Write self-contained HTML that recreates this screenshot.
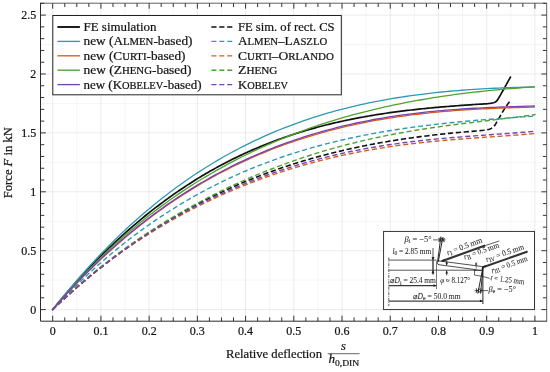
<!DOCTYPE html>
<html><head><meta charset="utf-8"><title>Force vs. relative deflection</title>
<style>html,body{margin:0;padding:0;background:#fff}svg{display:block}text{font-family:"Liberation Serif",serif;fill:#151515;stroke:#151515;stroke-width:0.22px}</style></head><body>
<svg width="550" height="372" viewBox="0 0 550 372">
<rect width="550" height="372" fill="#fff"/>
<g><line x1="52.70" y1="3.2" x2="52.70" y2="321.2" stroke="#dedede" stroke-width="0.6"/><line x1="76.81" y1="3.2" x2="76.81" y2="321.2" stroke="#ebebeb" stroke-width="0.5"/><line x1="100.92" y1="3.2" x2="100.92" y2="321.2" stroke="#dedede" stroke-width="0.6"/><line x1="125.03" y1="3.2" x2="125.03" y2="321.2" stroke="#ebebeb" stroke-width="0.5"/><line x1="149.14" y1="3.2" x2="149.14" y2="321.2" stroke="#dedede" stroke-width="0.6"/><line x1="173.25" y1="3.2" x2="173.25" y2="321.2" stroke="#ebebeb" stroke-width="0.5"/><line x1="197.36" y1="3.2" x2="197.36" y2="321.2" stroke="#dedede" stroke-width="0.6"/><line x1="221.47" y1="3.2" x2="221.47" y2="321.2" stroke="#ebebeb" stroke-width="0.5"/><line x1="245.58" y1="3.2" x2="245.58" y2="321.2" stroke="#dedede" stroke-width="0.6"/><line x1="269.69" y1="3.2" x2="269.69" y2="321.2" stroke="#ebebeb" stroke-width="0.5"/><line x1="293.80" y1="3.2" x2="293.80" y2="321.2" stroke="#dedede" stroke-width="0.6"/><line x1="317.91" y1="3.2" x2="317.91" y2="321.2" stroke="#ebebeb" stroke-width="0.5"/><line x1="342.02" y1="3.2" x2="342.02" y2="321.2" stroke="#dedede" stroke-width="0.6"/><line x1="366.13" y1="3.2" x2="366.13" y2="321.2" stroke="#ebebeb" stroke-width="0.5"/><line x1="390.24" y1="3.2" x2="390.24" y2="321.2" stroke="#dedede" stroke-width="0.6"/><line x1="414.35" y1="3.2" x2="414.35" y2="321.2" stroke="#ebebeb" stroke-width="0.5"/><line x1="438.46" y1="3.2" x2="438.46" y2="321.2" stroke="#dedede" stroke-width="0.6"/><line x1="462.57" y1="3.2" x2="462.57" y2="321.2" stroke="#ebebeb" stroke-width="0.5"/><line x1="486.68" y1="3.2" x2="486.68" y2="321.2" stroke="#dedede" stroke-width="0.6"/><line x1="510.79" y1="3.2" x2="510.79" y2="321.2" stroke="#ebebeb" stroke-width="0.5"/><line x1="534.90" y1="3.2" x2="534.90" y2="321.2" stroke="#dedede" stroke-width="0.6"/><line x1="40.5" y1="309.60" x2="546.7" y2="309.60" stroke="#dedede" stroke-width="0.6"/><line x1="40.5" y1="280.15" x2="546.7" y2="280.15" stroke="#ebebeb" stroke-width="0.5"/><line x1="40.5" y1="250.70" x2="546.7" y2="250.70" stroke="#dedede" stroke-width="0.6"/><line x1="40.5" y1="221.25" x2="546.7" y2="221.25" stroke="#ebebeb" stroke-width="0.5"/><line x1="40.5" y1="191.80" x2="546.7" y2="191.80" stroke="#dedede" stroke-width="0.6"/><line x1="40.5" y1="162.35" x2="546.7" y2="162.35" stroke="#ebebeb" stroke-width="0.5"/><line x1="40.5" y1="132.90" x2="546.7" y2="132.90" stroke="#dedede" stroke-width="0.6"/><line x1="40.5" y1="103.45" x2="546.7" y2="103.45" stroke="#ebebeb" stroke-width="0.5"/><line x1="40.5" y1="74.00" x2="546.7" y2="74.00" stroke="#dedede" stroke-width="0.6"/><line x1="40.5" y1="44.55" x2="546.7" y2="44.55" stroke="#ebebeb" stroke-width="0.5"/><line x1="40.5" y1="15.10" x2="546.7" y2="15.10" stroke="#dedede" stroke-width="0.6"/></g>
<g stroke-linejoin="round"><path d="M52.70 309.60 L54.62 307.26 L56.53 304.93 L58.45 302.63 L60.37 300.34 L62.28 298.07 L64.20 295.81 L66.12 293.58 L68.03 291.36 L69.95 289.16 L71.87 286.97 L73.78 284.81 L75.70 282.66 L77.62 280.53 L79.53 278.41 L81.45 276.31 L83.37 274.23 L85.28 272.17 L87.20 270.12 L89.12 268.09 L91.03 266.08 L92.95 264.08 L94.87 262.10 L96.78 260.14 L98.70 258.20 L100.62 256.27 L102.54 254.35 L104.45 252.45 L106.37 250.57 L108.29 248.71 L110.20 246.86 L112.12 245.03 L114.04 243.21 L115.95 241.41 L117.87 239.63 L119.79 237.86 L121.70 236.11 L123.62 234.37 L125.54 232.65 L127.45 230.94 L129.37 229.25 L131.29 227.58 L133.20 225.92 L135.12 224.27 L137.04 222.64 L138.95 221.03 L140.87 219.43 L142.79 217.85 L144.70 216.28 L146.62 214.73 L148.54 213.19 L150.45 211.66 L152.37 210.15 L154.29 208.66 L156.20 207.18 L158.12 205.71 L160.04 204.26 L161.95 202.82 L163.87 201.40 L165.79 199.99 L167.70 198.60 L169.62 197.22 L171.54 195.85 L173.45 194.50 L175.37 193.16 L177.29 191.84 L179.20 190.52 L181.12 189.23 L183.04 187.94 L184.95 186.67 L186.87 185.41 L188.79 184.17 L190.71 182.94 L192.62 181.72 L194.54 180.52 L196.46 179.33 L198.37 178.15 L200.29 176.99 L202.21 175.83 L204.12 174.69 L206.04 173.57 L207.96 172.45 L209.87 171.35 L211.79 170.26 L213.71 169.18 L215.62 168.12 L217.54 167.07 L219.46 166.03 L221.37 165.00 L223.29 163.98 L225.21 162.98 L227.12 161.99 L229.04 161.00 L230.96 160.04 L232.87 159.08 L234.79 158.13 L236.71 157.20 L238.62 156.28 L240.54 155.36 L242.46 154.46 L244.37 153.58 L246.29 152.70 L248.21 151.83 L250.12 150.97 L252.04 150.13 L253.96 149.29 L255.87 148.47 L257.79 147.66 L259.71 146.85 L261.62 146.06 L263.54 145.28 L265.46 144.51 L267.37 143.75 L269.29 143.00 L271.21 142.26 L273.12 141.53 L275.04 140.80 L276.96 140.09 L278.87 139.39 L280.79 138.70 L282.71 138.02 L284.63 137.35 L286.54 136.68 L288.46 136.03 L290.38 135.39 L292.29 134.75 L294.21 134.12 L296.13 133.51 L298.04 132.90 L299.96 132.30 L301.88 131.71 L303.79 131.13 L305.71 130.55 L307.63 129.99 L309.54 129.43 L311.46 128.89 L313.38 128.35 L315.29 127.82 L317.21 127.29 L319.13 126.78 L321.04 126.27 L322.96 125.77 L324.88 125.28 L326.79 124.80 L328.71 124.32 L330.63 123.86 L332.54 123.40 L334.46 122.94 L336.38 122.50 L338.29 122.06 L340.21 121.63 L342.13 121.21 L344.04 120.79 L345.96 120.38 L347.88 119.98 L349.79 119.58 L351.71 119.19 L353.63 118.81 L355.54 118.43 L357.46 118.06 L359.38 117.70 L361.29 117.34 L363.21 116.99 L365.13 116.65 L367.04 116.31 L368.96 115.98 L370.88 115.65 L372.79 115.33 L374.71 115.01 L376.63 114.70 L378.55 114.40 L380.46 114.10 L382.38 113.81 L384.30 113.52 L386.21 113.24 L388.13 112.96 L390.05 112.69 L391.96 112.42 L393.88 112.16 L395.80 111.90 L397.71 111.65 L399.63 111.40 L401.55 111.16 L403.46 110.92 L405.38 110.68 L407.30 110.45 L409.21 110.23 L411.13 110.01 L413.05 109.79 L414.96 109.58 L416.88 109.37 L418.80 109.16 L420.71 108.96 L422.63 108.76 L424.55 108.57 L426.46 108.38 L428.38 108.19 L430.30 108.00 L432.21 107.82 L434.13 107.65 L436.05 107.47 L437.96 107.30 L439.88 107.13 L441.80 106.97 L443.71 106.80 L445.63 106.64 L447.55 106.49 L449.46 106.33 L451.38 106.18 L453.30 106.03 L455.21 105.88 L457.13 105.74 L459.05 105.59 L460.96 105.45 L462.88 105.31 L464.80 105.18 L466.72 105.04 L468.63 104.91 L470.55 104.78 L472.47 104.65 L474.38 104.52 L476.30 104.39 L478.22 104.27 L480.13 104.16 L482.05 104.06 L483.97 103.96 L485.88 103.85 L487.80 103.70 L489.72 103.49 L491.63 103.08 L493.55 102.74 L495.47 102.04 L497.38 100.10 L499.30 97.05 L501.22 93.66 L503.13 90.24 L505.05 86.81 L506.97 83.38 L508.88 79.95 L510.80 76.50" fill="none" stroke="#111" stroke-width="1.7"/><path d="M52.70 309.60 L54.62 307.78 L56.53 305.98 L58.45 304.19 L60.36 302.41 L62.28 300.64 L64.19 298.89 L66.11 297.14 L68.02 295.41 L69.94 293.69 L71.85 291.98 L73.77 290.29 L75.69 288.61 L77.60 286.94 L79.52 285.28 L81.43 283.63 L83.35 281.99 L85.26 280.37 L87.18 278.76 L89.09 277.16 L91.01 275.57 L92.93 273.99 L94.84 272.42 L96.76 270.87 L98.67 269.32 L100.59 267.79 L102.50 266.27 L104.42 264.76 L106.33 263.26 L108.25 261.78 L110.16 260.30 L112.08 258.84 L114.00 257.38 L115.91 255.94 L117.83 254.51 L119.74 253.09 L121.66 251.68 L123.57 250.28 L125.49 248.89 L127.40 247.51 L129.32 246.14 L131.23 244.79 L133.15 243.44 L135.07 242.11 L136.98 240.78 L138.90 239.47 L140.81 238.16 L142.73 236.87 L144.64 235.59 L146.56 234.31 L148.47 233.05 L150.39 231.80 L152.31 230.56 L154.22 229.33 L156.14 228.10 L158.05 226.89 L159.97 225.69 L161.88 224.50 L163.80 223.32 L165.71 222.14 L167.63 220.98 L169.54 219.83 L171.46 218.69 L173.38 217.55 L175.29 216.43 L177.21 215.32 L179.12 214.21 L181.04 213.12 L182.95 212.03 L184.87 210.96 L186.78 209.89 L188.70 208.83 L190.61 207.78 L192.53 206.74 L194.45 205.72 L196.36 204.70 L198.28 203.68 L200.19 202.68 L202.11 201.69 L204.02 200.70 L205.94 199.73 L207.85 198.76 L209.77 197.81 L211.68 196.86 L213.60 195.92 L215.52 194.99 L217.43 194.07 L219.35 193.15 L221.26 192.25 L223.18 191.35 L225.09 190.46 L227.01 189.58 L228.92 188.71 L230.84 187.85 L232.76 186.99 L234.67 186.15 L236.59 185.31 L238.50 184.48 L240.42 183.66 L242.33 182.85 L244.25 182.04 L246.16 181.24 L248.08 180.45 L249.99 179.67 L251.91 178.90 L253.83 178.13 L255.74 177.38 L257.66 176.63 L259.57 175.88 L261.49 175.15 L263.40 174.42 L265.32 173.70 L267.23 172.99 L269.15 172.29 L271.06 171.59 L272.98 170.90 L274.90 170.22 L276.81 169.54 L278.73 168.88 L280.64 168.22 L282.56 167.56 L284.47 166.92 L286.39 166.28 L288.30 165.65 L290.22 165.02 L292.14 164.41 L294.05 163.79 L295.97 163.19 L297.88 162.59 L299.80 162.00 L301.71 161.42 L303.63 160.84 L305.54 160.27 L307.46 159.71 L309.37 159.15 L311.29 158.60 L313.21 158.06 L315.12 157.52 L317.04 156.99 L318.95 156.47 L320.87 155.95 L322.78 155.44 L324.70 154.93 L326.61 154.43 L328.53 153.94 L330.44 153.45 L332.36 152.97 L334.28 152.50 L336.19 152.03 L338.11 151.56 L340.02 151.11 L341.94 150.66 L343.85 150.21 L345.77 149.77 L347.68 149.34 L349.60 148.91 L351.52 148.48 L353.43 148.07 L355.35 147.66 L357.26 147.25 L359.18 146.85 L361.09 146.45 L363.01 146.06 L364.92 145.68 L366.84 145.30 L368.75 144.93 L370.67 144.56 L372.59 144.19 L374.50 143.83 L376.42 143.48 L378.33 143.13 L380.25 142.79 L382.16 142.45 L384.08 142.12 L385.99 141.79 L387.91 141.46 L389.82 141.14 L391.74 140.83 L393.66 140.52 L395.57 140.21 L397.49 139.91 L399.40 139.62 L401.32 139.32 L403.23 139.04 L405.15 138.75 L407.06 138.48 L408.98 138.20 L410.89 137.93 L412.81 137.67 L414.73 137.40 L416.64 137.15 L418.56 136.89 L420.47 136.64 L422.39 136.40 L424.30 136.16 L426.22 135.92 L428.13 135.69 L430.05 135.46 L431.97 135.23 L433.88 135.01 L435.80 134.79 L437.71 134.58 L439.63 134.36 L441.54 134.16 L443.46 133.95 L445.37 133.75 L447.29 133.56 L449.20 133.36 L451.12 133.17 L453.04 132.98 L454.95 132.80 L456.87 132.62 L458.78 132.44 L460.70 132.27 L462.61 132.10 L464.53 131.93 L466.44 131.77 L468.36 131.62 L470.27 131.46 L472.19 131.31 L474.11 131.14 L476.02 130.97 L477.94 130.81 L479.85 130.66 L481.77 130.48 L483.68 130.28 L485.60 130.02 L487.51 129.70 L489.43 129.17 L491.35 128.38 L493.26 127.01 L495.18 124.85 L497.09 121.58 L499.01 118.26 L500.92 114.81 L502.84 111.46 L504.75 108.42 L506.67 105.58 L508.58 102.89 L510.50 100.40" fill="none" stroke="#111" stroke-width="1.6" stroke-dasharray="3.65 4.25" stroke-linecap="square"/><path d="M52.70 309.60 L56.75 304.49 L60.80 299.46 L64.86 294.51 L68.91 289.64 L72.96 284.85 L77.01 280.15 L81.06 275.52 L85.12 270.97 L89.17 266.49 L93.22 262.09 L97.27 257.77 L101.33 253.53 L105.38 249.35 L109.43 245.25 L113.48 241.23 L117.53 237.27 L121.59 233.39 L125.64 229.58 L129.69 225.83 L133.74 222.16 L137.79 218.55 L141.85 215.02 L145.90 211.54 L149.95 208.14 L154.00 204.80 L158.05 201.52 L162.11 198.31 L166.16 195.16 L170.21 192.08 L174.26 189.05 L178.32 186.09 L182.37 183.18 L186.42 180.34 L190.47 177.55 L194.52 174.83 L198.58 172.16 L202.63 169.55 L206.68 166.99 L210.73 164.49 L214.78 162.04 L218.84 159.65 L222.89 157.31 L226.94 155.02 L230.99 152.79 L235.04 150.60 L239.10 148.47 L243.15 146.39 L247.20 144.35 L251.25 142.37 L255.31 140.43 L259.36 138.54 L263.41 136.70 L267.46 134.90 L271.51 133.15 L275.57 131.44 L279.62 129.77 L283.67 128.15 L287.72 126.57 L291.77 125.04 L295.83 123.54 L299.88 122.09 L303.93 120.67 L307.98 119.30 L312.03 117.96 L316.09 116.66 L320.14 115.40 L324.19 114.17 L328.24 112.99 L332.29 111.83 L336.35 110.72 L340.40 109.63 L344.45 108.58 L348.50 107.57 L352.56 106.58 L356.61 105.63 L360.66 104.71 L364.71 103.82 L368.76 102.96 L372.82 102.14 L376.87 101.34 L380.92 100.56 L384.97 99.82 L389.02 99.10 L393.08 98.41 L397.13 97.75 L401.18 97.11 L405.23 96.50 L409.28 95.91 L413.34 95.34 L417.39 94.80 L421.44 94.28 L425.49 93.79 L429.55 93.31 L433.60 92.86 L437.65 92.42 L441.70 92.01 L445.75 91.62 L449.81 91.24 L453.86 90.89 L457.91 90.55 L461.96 90.23 L466.01 89.93 L470.07 89.64 L474.12 89.37 L478.17 89.12 L482.22 88.88 L486.27 88.65 L490.33 88.44 L494.38 88.24 L498.43 88.06 L502.48 87.89 L506.54 87.73 L510.59 87.58 L514.64 87.44 L518.69 87.31 L522.74 87.20 L526.80 87.09 L530.85 86.99 L534.90 86.90" fill="none" stroke="#2f99b2" stroke-width="1.3"/><path d="M52.70 309.60 L56.75 305.27 L60.80 301.02 L64.86 296.83 L68.91 292.72 L72.96 288.68 L77.01 284.70 L81.06 280.80 L85.12 276.96 L89.17 273.19 L93.22 269.48 L97.27 265.84 L101.33 262.27 L105.38 258.76 L109.43 255.31 L113.48 251.92 L117.53 248.60 L121.59 245.33 L125.64 242.13 L129.69 238.98 L133.74 235.89 L137.79 232.86 L141.85 229.89 L145.90 226.97 L149.95 224.11 L154.00 221.31 L158.05 218.55 L162.11 215.85 L166.16 213.21 L170.21 210.61 L174.26 208.07 L178.32 205.58 L182.37 203.14 L186.42 200.75 L190.47 198.40 L194.52 196.11 L198.58 193.86 L202.63 191.66 L206.68 189.50 L210.73 187.39 L214.78 185.33 L218.84 183.31 L222.89 181.33 L226.94 179.40 L230.99 177.50 L235.04 175.66 L239.10 173.85 L243.15 172.08 L247.20 170.35 L251.25 168.67 L255.31 167.02 L259.36 165.41 L263.41 163.83 L267.46 162.30 L271.51 160.80 L275.57 159.34 L279.62 157.91 L283.67 156.52 L287.72 155.16 L291.77 153.84 L295.83 152.55 L299.88 151.29 L303.93 150.06 L307.98 148.87 L312.03 147.70 L316.09 146.57 L320.14 145.47 L324.19 144.40 L328.24 143.35 L332.29 142.34 L336.35 141.35 L340.40 140.39 L344.45 139.45 L348.50 138.55 L352.56 137.66 L356.61 136.81 L360.66 135.98 L364.71 135.17 L368.76 134.38 L372.82 133.62 L376.87 132.88 L380.92 132.17 L384.97 131.47 L389.02 130.80 L393.08 130.15 L397.13 129.51 L401.18 128.90 L405.23 128.30 L409.28 127.73 L413.34 127.17 L417.39 126.62 L421.44 126.10 L425.49 125.59 L429.55 125.10 L433.60 124.62 L437.65 124.16 L441.70 123.71 L445.75 123.27 L449.81 122.85 L453.86 122.44 L457.91 122.04 L461.96 121.66 L466.01 121.28 L470.07 120.92 L474.12 120.56 L478.17 120.22 L482.22 119.88 L486.27 119.55 L490.33 119.23 L494.38 118.92 L498.43 118.61 L502.48 118.31 L506.54 118.02 L510.59 117.73 L514.64 117.44 L518.69 117.16 L522.74 116.88 L526.80 116.60 L530.85 116.33 L534.90 116.05" fill="none" stroke="#2f99b2" stroke-width="1.4" stroke-dasharray="3.65 4.25" stroke-linecap="square"/><path d="M52.70 309.60 L56.75 304.97 L60.80 300.41 L64.86 295.94 L68.91 291.53 L72.96 287.20 L77.01 282.94 L81.06 278.76 L85.12 274.64 L89.17 270.60 L93.22 266.62 L97.27 262.72 L101.33 258.88 L105.38 255.11 L109.43 251.41 L113.48 247.77 L117.53 244.19 L121.59 240.68 L125.64 237.24 L129.69 233.85 L133.74 230.53 L137.79 227.27 L141.85 224.07 L145.90 220.92 L149.95 217.84 L154.00 214.82 L158.05 211.85 L162.11 208.94 L166.16 206.08 L170.21 203.29 L174.26 200.54 L178.32 197.85 L182.37 195.22 L186.42 192.63 L190.47 190.10 L194.52 187.62 L198.58 185.19 L202.63 182.81 L206.68 180.49 L210.73 178.21 L214.78 175.98 L218.84 173.79 L222.89 171.66 L226.94 169.57 L230.99 167.53 L235.04 165.53 L239.10 163.58 L243.15 161.67 L247.20 159.81 L251.25 157.99 L255.31 156.21 L259.36 154.48 L263.41 152.78 L267.46 151.13 L271.51 149.52 L275.57 147.95 L279.62 146.42 L283.67 144.93 L287.72 143.47 L291.77 142.06 L295.83 140.68 L299.88 139.34 L303.93 138.03 L307.98 136.76 L312.03 135.53 L316.09 134.33 L320.14 133.17 L324.19 132.04 L328.24 130.94 L332.29 129.88 L336.35 128.85 L340.40 127.85 L344.45 126.88 L348.50 125.94 L352.56 125.03 L356.61 124.15 L360.66 123.31 L364.71 122.49 L368.76 121.70 L372.82 120.93 L376.87 120.20 L380.92 119.49 L384.97 118.81 L389.02 118.15 L393.08 117.52 L397.13 116.91 L401.18 116.33 L405.23 115.77 L409.28 115.23 L413.34 114.72 L417.39 114.23 L421.44 113.76 L425.49 113.31 L429.55 112.88 L433.60 112.47 L437.65 112.08 L441.70 111.71 L445.75 111.36 L449.81 111.03 L453.86 110.71 L457.91 110.41 L461.96 110.13 L466.01 109.86 L470.07 109.60 L474.12 109.37 L478.17 109.14 L482.22 108.93 L486.27 108.73 L490.33 108.54 L494.38 108.37 L498.43 108.20 L502.48 108.05 L506.54 107.90 L510.59 107.76 L514.64 107.64 L518.69 107.52 L522.74 107.40 L526.80 107.29 L530.85 107.19 L534.90 107.10" fill="none" stroke="#d65c1e" stroke-width="1.3"/><path d="M52.70 309.60 L56.75 305.69 L60.80 301.86 L64.86 298.10 L68.91 294.41 L72.96 290.79 L77.01 287.23 L81.06 283.75 L85.12 280.32 L89.17 276.96 L93.22 273.66 L97.27 270.42 L101.33 267.24 L105.38 264.12 L109.43 261.05 L113.48 258.04 L117.53 255.08 L121.59 252.18 L125.64 249.33 L129.69 246.53 L133.74 243.78 L137.79 241.08 L141.85 238.43 L145.90 235.83 L149.95 233.27 L154.00 230.76 L158.05 228.29 L162.11 225.87 L166.16 223.50 L170.21 221.16 L174.26 218.87 L178.32 216.62 L182.37 214.41 L186.42 212.25 L190.47 210.12 L194.52 208.03 L198.58 205.98 L202.63 203.97 L206.68 202.00 L210.73 200.06 L214.78 198.16 L218.84 196.30 L222.89 194.48 L226.94 192.69 L230.99 190.93 L235.04 189.21 L239.10 187.53 L243.15 185.88 L247.20 184.26 L251.25 182.68 L255.31 181.13 L259.36 179.62 L263.41 178.13 L267.46 176.68 L271.51 175.26 L275.57 173.88 L279.62 172.52 L283.67 171.20 L287.72 169.91 L291.77 168.64 L295.83 167.41 L299.88 166.21 L303.93 165.04 L307.98 163.90 L312.03 162.79 L316.09 161.71 L320.14 160.65 L324.19 159.63 L328.24 158.63 L332.29 157.66 L336.35 156.72 L340.40 155.81 L344.45 154.92 L348.50 154.06 L352.56 153.22 L356.61 152.42 L360.66 151.63 L364.71 150.88 L368.76 150.14 L372.82 149.44 L376.87 148.75 L380.92 148.09 L384.97 147.45 L389.02 146.84 L393.08 146.25 L397.13 145.68 L401.18 145.12 L405.23 144.59 L409.28 144.08 L413.34 143.59 L417.39 143.12 L421.44 142.67 L425.49 142.23 L429.55 141.81 L433.60 141.40 L437.65 141.01 L441.70 140.64 L445.75 140.27 L449.81 139.92 L453.86 139.58 L457.91 139.26 L461.96 138.94 L466.01 138.63 L470.07 138.33 L474.12 138.03 L478.17 137.74 L482.22 137.46 L486.27 137.17 L490.33 136.89 L494.38 136.61 L498.43 136.33 L502.48 136.05 L506.54 135.76 L510.59 135.47 L514.64 135.17 L518.69 134.87 L522.74 134.55 L526.80 134.23 L530.85 133.89 L534.90 133.54" fill="none" stroke="#d65c1e" stroke-width="1.4" stroke-dasharray="3.65 4.25" stroke-linecap="square"/><path d="M52.70 309.60 L56.75 304.79 L60.80 300.06 L64.86 295.41 L68.91 290.85 L72.96 286.36 L77.01 281.95 L81.06 277.63 L85.12 273.37 L89.17 269.19 L93.22 265.09 L97.27 261.06 L101.33 257.10 L105.38 253.21 L109.43 249.39 L113.48 245.64 L117.53 241.96 L121.59 238.34 L125.64 234.79 L129.69 231.30 L133.74 227.88 L137.79 224.52 L141.85 221.22 L145.90 217.98 L149.95 214.80 L154.00 211.68 L158.05 208.62 L162.11 205.61 L166.16 202.66 L170.21 199.77 L174.26 196.93 L178.32 194.15 L182.37 191.41 L186.42 188.73 L190.47 186.10 L194.52 183.52 L198.58 180.99 L202.63 178.51 L206.68 176.08 L210.73 173.69 L214.78 171.35 L218.84 169.06 L222.89 166.81 L226.94 164.60 L230.99 162.44 L235.04 160.33 L239.10 158.25 L243.15 156.22 L247.20 154.23 L251.25 152.27 L255.31 150.36 L259.36 148.49 L263.41 146.66 L267.46 144.86 L271.51 143.10 L275.57 141.38 L279.62 139.70 L283.67 138.05 L287.72 136.43 L291.77 134.85 L295.83 133.31 L299.88 131.80 L303.93 130.32 L307.98 128.87 L312.03 127.46 L316.09 126.07 L320.14 124.72 L324.19 123.40 L328.24 122.11 L332.29 120.85 L336.35 119.62 L340.40 118.42 L344.45 117.24 L348.50 116.09 L352.56 114.97 L356.61 113.88 L360.66 112.81 L364.71 111.77 L368.76 110.76 L372.82 109.77 L376.87 108.81 L380.92 107.87 L384.97 106.95 L389.02 106.06 L393.08 105.19 L397.13 104.35 L401.18 103.53 L405.23 102.73 L409.28 101.95 L413.34 101.19 L417.39 100.46 L421.44 99.74 L425.49 99.05 L429.55 98.37 L433.60 97.72 L437.65 97.08 L441.70 96.47 L445.75 95.87 L449.81 95.29 L453.86 94.73 L457.91 94.19 L461.96 93.67 L466.01 93.16 L470.07 92.67 L474.12 92.19 L478.17 91.74 L482.22 91.30 L486.27 90.87 L490.33 90.46 L494.38 90.06 L498.43 89.68 L502.48 89.32 L506.54 88.96 L510.59 88.62 L514.64 88.30 L518.69 87.99 L522.74 87.69 L526.80 87.40 L530.85 87.13 L534.90 86.87" fill="none" stroke="#4da32e" stroke-width="1.3"/><path d="M52.70 309.60 L56.75 305.64 L60.80 301.75 L64.86 297.93 L68.91 294.18 L72.96 290.49 L77.01 286.87 L81.06 283.32 L85.12 279.83 L89.17 276.40 L93.22 273.03 L97.27 269.71 L101.33 266.46 L105.38 263.26 L109.43 260.11 L113.48 257.02 L117.53 253.98 L121.59 250.98 L125.64 248.04 L129.69 245.15 L133.74 242.30 L137.79 239.51 L141.85 236.75 L145.90 234.05 L149.95 231.38 L154.00 228.76 L158.05 226.18 L162.11 223.65 L166.16 221.15 L170.21 218.70 L174.26 216.28 L178.32 213.91 L182.37 211.57 L186.42 209.27 L190.47 207.01 L194.52 204.78 L198.58 202.59 L202.63 200.44 L206.68 198.32 L210.73 196.24 L214.78 194.19 L218.84 192.18 L222.89 190.20 L226.94 188.25 L230.99 186.34 L235.04 184.46 L239.10 182.61 L243.15 180.80 L247.20 179.01 L251.25 177.26 L255.31 175.54 L259.36 173.86 L263.41 172.20 L267.46 170.57 L271.51 168.98 L275.57 167.41 L279.62 165.88 L283.67 164.38 L287.72 162.90 L291.77 161.46 L295.83 160.04 L299.88 158.66 L303.93 157.30 L307.98 155.97 L312.03 154.67 L316.09 153.40 L320.14 152.16 L324.19 150.94 L328.24 149.76 L332.29 148.60 L336.35 147.47 L340.40 146.36 L344.45 145.28 L348.50 144.23 L352.56 143.20 L356.61 142.20 L360.66 141.23 L364.71 140.28 L368.76 139.35 L372.82 138.45 L376.87 137.58 L380.92 136.72 L384.97 135.89 L389.02 135.09 L393.08 134.30 L397.13 133.54 L401.18 132.80 L405.23 132.07 L409.28 131.37 L413.34 130.69 L417.39 130.03 L421.44 129.38 L425.49 128.75 L429.55 128.14 L433.60 127.54 L437.65 126.96 L441.70 126.39 L445.75 125.84 L449.81 125.30 L453.86 124.77 L457.91 124.25 L461.96 123.73 L466.01 123.23 L470.07 122.74 L474.12 122.24 L478.17 121.76 L482.22 121.28 L486.27 120.80 L490.33 120.32 L494.38 119.84 L498.43 119.35 L502.48 118.87 L506.54 118.37 L510.59 117.88 L514.64 117.37 L518.69 116.85 L522.74 116.32 L526.80 115.78 L530.85 115.22 L534.90 114.64" fill="none" stroke="#4da32e" stroke-width="1.4" stroke-dasharray="3.65 4.25" stroke-linecap="square"/><path d="M52.70 309.60 L56.75 304.91 L60.80 300.30 L64.86 295.77 L68.91 291.31 L72.96 286.94 L77.01 282.64 L81.06 278.41 L85.12 274.27 L89.17 270.19 L93.22 266.18 L97.27 262.25 L101.33 258.39 L105.38 254.59 L109.43 250.87 L113.48 247.21 L117.53 243.62 L121.59 240.09 L125.64 236.63 L129.69 233.23 L133.74 229.89 L137.79 226.62 L141.85 223.41 L145.90 220.25 L149.95 217.16 L154.00 214.13 L158.05 211.15 L162.11 208.23 L166.16 205.37 L170.21 202.56 L174.26 199.81 L178.32 197.11 L182.37 194.47 L186.42 191.87 L190.47 189.33 L194.52 186.85 L198.58 184.41 L202.63 182.02 L206.68 179.69 L210.73 177.40 L214.78 175.16 L218.84 172.97 L222.89 170.82 L226.94 168.72 L230.99 166.67 L235.04 164.67 L239.10 162.70 L243.15 160.79 L247.20 158.91 L251.25 157.08 L255.31 155.29 L259.36 153.55 L263.41 151.84 L267.46 150.18 L271.51 148.56 L275.57 146.98 L279.62 145.43 L283.67 143.93 L287.72 142.47 L291.77 141.04 L295.83 139.65 L299.88 138.30 L303.93 136.98 L307.98 135.70 L312.03 134.46 L316.09 133.25 L320.14 132.08 L324.19 130.94 L328.24 129.83 L332.29 128.76 L336.35 127.72 L340.40 126.71 L344.45 125.73 L348.50 124.79 L352.56 123.87 L356.61 122.99 L360.66 122.14 L364.71 121.31 L368.76 120.52 L372.82 119.75 L376.87 119.01 L380.92 118.30 L384.97 117.61 L389.02 116.95 L393.08 116.32 L397.13 115.71 L401.18 115.13 L405.23 114.57 L409.28 114.04 L413.34 113.53 L417.39 113.04 L421.44 112.57 L425.49 112.13 L429.55 111.71 L433.60 111.30 L437.65 110.92 L441.70 110.56 L445.75 110.21 L449.81 109.88 L453.86 109.57 L457.91 109.28 L461.96 109.00 L466.01 108.74 L470.07 108.50 L474.12 108.27 L478.17 108.05 L482.22 107.84 L486.27 107.65 L490.33 107.47 L494.38 107.30 L498.43 107.13 L502.48 106.98 L506.54 106.84 L510.59 106.70 L514.64 106.58 L518.69 106.45 L522.74 106.34 L526.80 106.22 L530.85 106.12 L534.90 106.01" fill="none" stroke="#7842b2" stroke-width="1.3"/><path d="M52.70 309.60 L56.75 305.69 L60.80 301.85 L64.86 298.08 L68.91 294.37 L72.96 290.74 L77.01 287.16 L81.06 283.65 L85.12 280.21 L89.17 276.82 L93.22 273.49 L97.27 270.22 L101.33 267.01 L105.38 263.86 L109.43 260.76 L113.48 257.71 L117.53 254.72 L121.59 251.78 L125.64 248.89 L129.69 246.06 L133.74 243.27 L137.79 240.53 L141.85 237.84 L145.90 235.19 L149.95 232.60 L154.00 230.05 L158.05 227.54 L162.11 225.08 L166.16 222.66 L170.21 220.28 L174.26 217.95 L178.32 215.66 L182.37 213.41 L186.42 211.20 L190.47 209.04 L194.52 206.91 L198.58 204.82 L202.63 202.77 L206.68 200.76 L210.73 198.79 L214.78 196.85 L218.84 194.96 L222.89 193.10 L226.94 191.27 L230.99 189.48 L235.04 187.73 L239.10 186.02 L243.15 184.34 L247.20 182.69 L251.25 181.08 L255.31 179.50 L259.36 177.96 L263.41 176.45 L267.46 174.97 L271.51 173.53 L275.57 172.12 L279.62 170.74 L283.67 169.40 L287.72 168.08 L291.77 166.80 L295.83 165.55 L299.88 164.33 L303.93 163.14 L307.98 161.99 L312.03 160.86 L316.09 159.76 L320.14 158.69 L324.19 157.66 L328.24 156.65 L332.29 155.67 L336.35 154.72 L340.40 153.79 L344.45 152.90 L348.50 152.03 L352.56 151.18 L356.61 150.37 L360.66 149.58 L364.71 148.82 L368.76 148.08 L372.82 147.37 L376.87 146.68 L380.92 146.01 L384.97 145.37 L389.02 144.75 L393.08 144.16 L397.13 143.58 L401.18 143.03 L405.23 142.50 L409.28 141.99 L413.34 141.49 L417.39 141.02 L421.44 140.56 L425.49 140.12 L429.55 139.70 L433.60 139.29 L437.65 138.90 L441.70 138.52 L445.75 138.16 L449.81 137.80 L453.86 137.46 L457.91 137.13 L461.96 136.81 L466.01 136.50 L470.07 136.19 L474.12 135.89 L478.17 135.59 L482.22 135.30 L486.27 135.01 L490.33 134.73 L494.38 134.44 L498.43 134.15 L502.48 133.86 L506.54 133.56 L510.59 133.26 L514.64 132.95 L518.69 132.63 L522.74 132.31 L526.80 131.97 L530.85 131.61 L534.90 131.25" fill="none" stroke="#7842b2" stroke-width="1.4" stroke-dasharray="3.65 4.25" stroke-linecap="square"/></g>
<path d="M52.70 321.2v-5.5M52.70 3.2v5.5M64.75 321.2v-3.8M64.75 3.2v3.8M76.81 321.2v-3.8M76.81 3.2v3.8M88.87 321.2v-3.8M88.87 3.2v3.8M100.92 321.2v-5.5M100.92 3.2v5.5M112.97 321.2v-3.8M112.97 3.2v3.8M125.03 321.2v-3.8M125.03 3.2v3.8M137.09 321.2v-3.8M137.09 3.2v3.8M149.14 321.2v-5.5M149.14 3.2v5.5M161.19 321.2v-3.8M161.19 3.2v3.8M173.25 321.2v-3.8M173.25 3.2v3.8M185.31 321.2v-3.8M185.31 3.2v3.8M197.36 321.2v-5.5M197.36 3.2v5.5M209.42 321.2v-3.8M209.42 3.2v3.8M221.47 321.2v-3.8M221.47 3.2v3.8M233.52 321.2v-3.8M233.52 3.2v3.8M245.58 321.2v-5.5M245.58 3.2v5.5M257.64 321.2v-3.8M257.64 3.2v3.8M269.69 321.2v-3.8M269.69 3.2v3.8M281.75 321.2v-3.8M281.75 3.2v3.8M293.80 321.2v-5.5M293.80 3.2v5.5M305.86 321.2v-3.8M305.86 3.2v3.8M317.91 321.2v-3.8M317.91 3.2v3.8M329.97 321.2v-3.8M329.97 3.2v3.8M342.02 321.2v-5.5M342.02 3.2v5.5M354.07 321.2v-3.8M354.07 3.2v3.8M366.13 321.2v-3.8M366.13 3.2v3.8M378.19 321.2v-3.8M378.19 3.2v3.8M390.24 321.2v-5.5M390.24 3.2v5.5M402.30 321.2v-3.8M402.30 3.2v3.8M414.35 321.2v-3.8M414.35 3.2v3.8M426.40 321.2v-3.8M426.40 3.2v3.8M438.46 321.2v-5.5M438.46 3.2v5.5M450.51 321.2v-3.8M450.51 3.2v3.8M462.57 321.2v-3.8M462.57 3.2v3.8M474.62 321.2v-3.8M474.62 3.2v3.8M486.68 321.2v-5.5M486.68 3.2v5.5M498.74 321.2v-3.8M498.74 3.2v3.8M510.79 321.2v-3.8M510.79 3.2v3.8M522.85 321.2v-3.8M522.85 3.2v3.8M534.90 321.2v-5.5M534.90 3.2v5.5M40.5 309.60h5.3M546.7 309.60h-5.3M40.5 297.82h3.8M546.7 297.82h-3.8M40.5 286.04h3.8M546.7 286.04h-3.8M40.5 274.26h3.8M546.7 274.26h-3.8M40.5 262.48h3.8M546.7 262.48h-3.8M40.5 250.70h5.3M546.7 250.70h-5.3M40.5 238.92h3.8M546.7 238.92h-3.8M40.5 227.14h3.8M546.7 227.14h-3.8M40.5 215.36h3.8M546.7 215.36h-3.8M40.5 203.58h3.8M546.7 203.58h-3.8M40.5 191.80h5.3M546.7 191.80h-5.3M40.5 180.02h3.8M546.7 180.02h-3.8M40.5 168.24h3.8M546.7 168.24h-3.8M40.5 156.46h3.8M546.7 156.46h-3.8M40.5 144.68h3.8M546.7 144.68h-3.8M40.5 132.90h5.3M546.7 132.90h-5.3M40.5 121.12h3.8M546.7 121.12h-3.8M40.5 109.34h3.8M546.7 109.34h-3.8M40.5 97.56h3.8M546.7 97.56h-3.8M40.5 85.78h3.8M546.7 85.78h-3.8M40.5 74.00h5.3M546.7 74.00h-5.3M40.5 62.22h3.8M546.7 62.22h-3.8M40.5 50.44h3.8M546.7 50.44h-3.8M40.5 38.66h3.8M546.7 38.66h-3.8M40.5 26.88h3.8M546.7 26.88h-3.8M40.5 15.10h5.3M546.7 15.10h-5.3M40.5 3.32h3.8M546.7 3.32h-3.8" stroke="#2a2a2a" stroke-width="0.95" fill="none"/>
<path d="M40.5 3.2H546.7V321.2" fill="none" stroke="#383838" stroke-width="0.8"/>
<path d="M40.5 2.8000000000000003V321.2H547.1" fill="none" stroke="#2a2a2a" stroke-width="1"/>
<text x="52.70" y="334.6" font-size="12" text-anchor="middle">0</text>
<text x="100.92" y="334.6" font-size="12" text-anchor="middle">0.1</text>
<text x="149.14" y="334.6" font-size="12" text-anchor="middle">0.2</text>
<text x="197.36" y="334.6" font-size="12" text-anchor="middle">0.3</text>
<text x="245.58" y="334.6" font-size="12" text-anchor="middle">0.4</text>
<text x="293.80" y="334.6" font-size="12" text-anchor="middle">0.5</text>
<text x="342.02" y="334.6" font-size="12" text-anchor="middle">0.6</text>
<text x="390.24" y="334.6" font-size="12" text-anchor="middle">0.7</text>
<text x="438.46" y="334.6" font-size="12" text-anchor="middle">0.8</text>
<text x="486.68" y="334.6" font-size="12" text-anchor="middle">0.9</text>
<text x="534.90" y="334.6" font-size="12" text-anchor="middle">1</text>
<text x="36.3" y="313.60" font-size="12" text-anchor="end">0</text>
<text x="36.3" y="254.70" font-size="12" text-anchor="end">0.5</text>
<text x="36.3" y="195.80" font-size="12" text-anchor="end">1</text>
<text x="36.3" y="136.90" font-size="12" text-anchor="end">1.5</text>
<text x="36.3" y="78.00" font-size="12" text-anchor="end">2</text>
<text x="36.3" y="19.10" font-size="12" text-anchor="end">2.5</text>
<text transform="translate(12.4 198.2) rotate(-90)" font-size="12.4" textLength="71" lengthAdjust="spacingAndGlyphs">Force <tspan font-style="italic">F</tspan> in kN</text>
<text x="226" y="358.3" font-size="12.4" textLength="96" lengthAdjust="spacingAndGlyphs">Relative deflection</text>
<line x1="327.7" y1="353.7" x2="359.6" y2="353.7" stroke="#222" stroke-width="0.7"/>
<text x="343.5" y="349.8" font-size="12.4" font-style="italic" text-anchor="middle">s</text>
<text x="328.4" y="363.2" font-size="12.4" textLength="30.8" lengthAdjust="spacingAndGlyphs"><tspan font-style="italic">h</tspan><tspan font-size="9" dy="2.4">0,DIN</tspan></text>
<rect x="52.8" y="15.5" width="288.5" height="79.3" fill="#fff" stroke="#222" stroke-width="1"/>
<line x1="57.4" y1="27.00" x2="79.9" y2="27.00" stroke="#111" stroke-width="1.9"/>
<text x="83.5" y="31.0" font-size="12.4" textLength="73.0" lengthAdjust="spacingAndGlyphs">FE simulation</text>
<line x1="212.1" y1="27.00" x2="233.5" y2="27.00" stroke="#111" stroke-width="1.55" stroke-dasharray="3.65 4.25" stroke-linecap="square"/>
<text x="238" y="31.0" font-size="12.4" textLength="96.6" lengthAdjust="spacingAndGlyphs">FE sim. of rect. CS</text>
<line x1="57.4" y1="41.40" x2="79.9" y2="41.40" stroke="#2f99b2" stroke-width="1.35"/>
<text x="83.5" y="45.4" font-size="12.4" textLength="109.0" lengthAdjust="spacingAndGlyphs">new (A<tspan font-size="10">LMEN</tspan>-based)</text>
<line x1="212.1" y1="41.40" x2="233.5" y2="41.40" stroke="#2f99b2" stroke-width="1.35" stroke-dasharray="3.65 4.25" stroke-linecap="square"/>
<text x="238" y="45.4" font-size="12.4" textLength="89.2" lengthAdjust="spacingAndGlyphs">A<tspan font-size="10">LMEN</tspan>–L<tspan font-size="10">ASZLO</tspan></text>
<line x1="57.4" y1="55.80" x2="79.9" y2="55.80" stroke="#d65c1e" stroke-width="1.35"/>
<text x="83.5" y="59.8" font-size="12.4" textLength="102.0" lengthAdjust="spacingAndGlyphs">new (C<tspan font-size="10">URTI</tspan>-based)</text>
<line x1="212.1" y1="55.80" x2="233.5" y2="55.80" stroke="#d65c1e" stroke-width="1.35" stroke-dasharray="3.65 4.25" stroke-linecap="square"/>
<text x="238" y="59.8" font-size="12.4" textLength="95.8" lengthAdjust="spacingAndGlyphs">C<tspan font-size="10">URTI</tspan>–O<tspan font-size="10">RLANDO</tspan></text>
<line x1="57.4" y1="70.20" x2="79.9" y2="70.20" stroke="#4da32e" stroke-width="1.35"/>
<text x="83.5" y="74.2" font-size="12.4" textLength="108.0" lengthAdjust="spacingAndGlyphs">new (Z<tspan font-size="10">HENG</tspan>-based)</text>
<line x1="212.1" y1="70.20" x2="233.5" y2="70.20" stroke="#4da32e" stroke-width="1.35" stroke-dasharray="3.65 4.25" stroke-linecap="square"/>
<text x="238" y="74.2" font-size="12.4" textLength="39.4" lengthAdjust="spacingAndGlyphs">Z<tspan font-size="10">HENG</tspan></text>
<line x1="57.4" y1="84.60" x2="79.9" y2="84.60" stroke="#7842b2" stroke-width="1.35"/>
<text x="83.5" y="88.6" font-size="12.4" textLength="118.0" lengthAdjust="spacingAndGlyphs">new (K<tspan font-size="10">OBELEV</tspan>-based)</text>
<line x1="212.1" y1="84.60" x2="233.5" y2="84.60" stroke="#7842b2" stroke-width="1.35" stroke-dasharray="3.65 4.25" stroke-linecap="square"/>
<text x="238" y="88.6" font-size="12.4" textLength="50.0" lengthAdjust="spacingAndGlyphs">K<tspan font-size="10">OBELEV</tspan></text>
<g id="inset">
<rect x="383.6" y="231.4" width="150.9" height="78.2" fill="#fff" stroke="#222" stroke-width="0.9"/>
<g fill="none" stroke="#333" stroke-linecap="butt">
<line x1="388.8" y1="257.5" x2="388.8" y2="306" stroke-width="0.8" stroke-dasharray="3 1 0.8 1"/>
<line x1="388.8" y1="260.1" x2="436.5" y2="260.1" stroke-width="0.9" stroke="#444"/>
<line x1="388.8" y1="270.2" x2="476" y2="270.2" stroke-width="0.9" stroke="#444"/>
<line x1="433" y1="248" x2="433" y2="258" stroke-width="0.9" stroke="#444"/>
<line x1="433" y1="258" x2="433" y2="274.5" stroke-width="1.5" stroke="#4a4a4a"/>
<line x1="436.5" y1="261" x2="436.5" y2="289" stroke-width="0.7" stroke="#444"/>
<line x1="388.8" y1="285.6" x2="436.5" y2="285.6" stroke-width="1.05" stroke="#383838"/>
<line x1="482.9" y1="267" x2="482.9" y2="304" stroke-width="0.95" stroke="#1c1c1c"/>
<line x1="388.8" y1="301.1" x2="482.9" y2="301.1" stroke-width="1.15" stroke="#404040"/>
<path d="M438.2 260.8 L482.6 266.6 L481.9 270.2 L479 270.1 L438 264.6 Q436.8 262.6 438.2 260.8Z" stroke-width="0.8" stroke="#222"/>
<path d="M440.9 236.6 L437.6 261.6 M442.9 237.2 L438.3 261.6" stroke-width="0.9" stroke="#111"/>
<path d="M433 239.9 H439.6 M445.6 239.9 H443 M438.2 238.2 L442 241.6 M438.2 241.6 L442 238.2 M441.4 238.2 L445 241.6 M441.4 241.6 L445 238.2" stroke-width="0.7" stroke="#222"/>
<path d="M439.4 237.6 V242.2 M441.6 237.6 V242.2 M443.6 237.6 V242.2" stroke-width="0.6" stroke="#222"/>
<line x1="441.6" y1="261.2" x2="485.1" y2="245.6" stroke-width="2.1" stroke="#333"/>
<line x1="485.1" y1="245.6" x2="499.3" y2="241.0" stroke-width="0.8" stroke="#333"/>
<line x1="482.9" y1="267.2" x2="527.6" y2="251.6" stroke-width="2.1" stroke="#333"/>
<path d="M446.7 260.8 V265 M446.7 270.5 V275.4" stroke-width="0.8" stroke="#222"/>
<path d="M474.5 270.2 V275.1 L481.8 276.2 L489.8 278.4 M474.5 270.4 L481.6 270.6" stroke-width="0.7" stroke="#222"/>
<path d="M476.2 262.4 V268.6 M475 263 L477.4 265 M477.4 263 L475 265" stroke-width="0.6" stroke="#222"/>
<path d="M483.1 266.5 L477.8 293.6 M483.1 266.5 L480.6 293.6" stroke-width="0.9" stroke="#111"/>
<path d="M474.6 290.6 H478.2 M488 290.6 H481.2 M475.6 289 L479.4 292.2 M475.6 292.2 L479.4 289 M479 289 L482.6 292.2 M479 292.2 L482.6 289" stroke-width="0.7" stroke="#222"/>
<path d="M476.6 288.2 V293 M478.6 288.2 V293 M480.8 288.2 V293" stroke-width="0.6" stroke="#222"/>
</g>
<g fill="#222" stroke="none">
<path d="M433 260.3 l-1.5 -3.2 h3z M433 270 l-1.5 3.2 h3z"/>
<path d="M436.5 285.6 l-3 -1.3 v2.6z M482.9 300.9 l-3 -1.3 v2.6z"/>
<path d="M446.7 265.6 l-1.3 -3 h2.6z M446.7 270.4 l-1.3 3 h2.6z"/>
<path d="M441.6 261.2 l3.2 -0.1 l-0.9 -2.2z M482.9 267.2 l3.2 -0.1 l-0.9 -2.2z"/>
</g>
<text x="404.4" y="241.6" style="font-size:8px;fill:#262626;stroke:#262626;stroke-width:0.06px" textLength="27.2" lengthAdjust="spacingAndGlyphs"><tspan font-style="italic">β</tspan><tspan dy="1.3" font-size="6.2">i</tspan><tspan dy="-1.3"> </tspan>= −5°</text>
<text x="392.4" y="253.7" style="font-size:8px;fill:#262626;stroke:#262626;stroke-width:0.06px" textLength="38.7" lengthAdjust="spacingAndGlyphs"><tspan font-style="italic">l</tspan><tspan dy="1.3" font-size="6.2">0</tspan><tspan dy="-1.3"> </tspan>= 2.85 mm</text>
<text transform="translate(447.7 255.3) rotate(-20.5)" style="font-size:8px;fill:#262626;stroke:#262626;stroke-width:0.06px" textLength="37.5" lengthAdjust="spacingAndGlyphs"><tspan font-style="italic">r</tspan><tspan dy="1.3" font-size="6.2">I</tspan><tspan dy="-1.3"> </tspan>= 0.5 mm</text>
<text transform="translate(464.8 259.6) rotate(-19.7)" style="font-size:8px;fill:#262626;stroke:#262626;stroke-width:0.06px" textLength="37" lengthAdjust="spacingAndGlyphs"><tspan font-style="italic">r</tspan><tspan dy="1.3" font-size="6.2">II</tspan><tspan dy="-1.3"> </tspan>= 0.5 mm</text>
<text transform="translate(486.8 262.0) rotate(-19.3)" style="font-size:8px;fill:#262626;stroke:#262626;stroke-width:0.06px" textLength="40" lengthAdjust="spacingAndGlyphs"><tspan font-style="italic">r</tspan><tspan dy="1.3" font-size="6.2">IV</tspan><tspan dy="-1.3"> </tspan>= 0.5 mm</text>
<text transform="translate(492.3 273.2) rotate(-19.3)" style="font-size:8px;fill:#262626;stroke:#262626;stroke-width:0.06px" textLength="38" lengthAdjust="spacingAndGlyphs"><tspan font-style="italic">r</tspan><tspan dy="1.3" font-size="6.2">III</tspan><tspan dy="-1.3"> </tspan>= 0.5 mm</text>
<text transform="translate(490.3 280.0) rotate(7.5)" style="font-size:8px;fill:#262626;stroke:#262626;stroke-width:0.06px" textLength="34" lengthAdjust="spacingAndGlyphs"><tspan font-style="italic">t</tspan> = 1.25 mm</text>
<text x="488.4" y="292.0" style="font-size:8px;fill:#262626;stroke:#262626;stroke-width:0.06px" textLength="27.6" lengthAdjust="spacingAndGlyphs"><tspan font-style="italic">β</tspan><tspan dy="1.3" font-size="6.2">e</tspan><tspan dy="-1.3"> </tspan>= −5°</text>
<text x="440.2" y="283.3" style="font-size:8px;fill:#262626;stroke:#262626;stroke-width:0.06px" textLength="30" lengthAdjust="spacingAndGlyphs"><tspan font-style="italic">φ</tspan> ≈ 8.127°</text>
<text x="389.9" y="283.3" style="font-size:8px;fill:#262626;stroke:#262626;stroke-width:0.06px" textLength="46" lengthAdjust="spacingAndGlyphs">⌀<tspan font-style="italic">D</tspan><tspan dy="1.3" font-size="6.2">i</tspan><tspan dy="-1.3"> </tspan>= 25.4 mm</text>
<text x="412.8" y="298.6" style="font-size:8px;fill:#262626;stroke:#262626;stroke-width:0.06px" textLength="47.8" lengthAdjust="spacingAndGlyphs">⌀<tspan font-style="italic">D</tspan><tspan dy="1.3" font-size="6.2">e</tspan><tspan dy="-1.3"> </tspan>= 50.0 mm</text>
</g>
</svg></body></html>
